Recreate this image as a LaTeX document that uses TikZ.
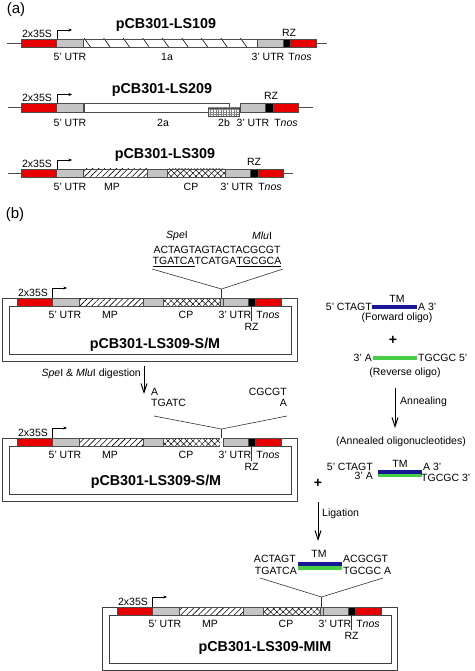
\documentclass[tikz,border=0pt]{standalone}
\usepackage{fontspec}
\setmainfont{Liberation Sans}
\usetikzlibrary{arrows.meta,patterns.meta}
\definecolor{lsRed}{RGB}{232,0,0}
\definecolor{lsGray}{RGB}{196,196,196}
\definecolor{lsBlue}{RGB}{24,24,150}
\definecolor{lsGreen}{RGB}{70,205,70}
\newcommand{\lsLbl}{\fontsize{10.5}{12}\selectfont}
\newcommand{\lsTtl}{\fontsize{14.3}{16}\selectfont\bfseries}
\newcommand{\lsTnos}{T\textit{nos}}
\tikzset{
  seg/.style={draw=black!70, line width=0.5pt},
  lbl/.style={font=\lsLbl, inner sep=0pt},
  ttl/.style={font=\lsTtl, inner sep=0pt},
  frame/.style={draw=black!75, line width=0.7pt},
  prom/.style={-{Stealth[length=3.5pt,width=3pt]}, line width=0.6pt},
  procarrow/.style={-{Straight Barb[length=9pt,width=6pt]}, line width=1pt},
  pointer/.style={draw=black!80, line width=0.6pt},
  mpfill/.style={pattern={Lines[angle=45,distance=4.2pt,line width=0.6pt]}},
  cpfillA/.style={pattern={Lines[angle=45,distance=4.4pt,line width=0.5pt]}},
  cpfillB/.style={pattern={Lines[angle=-45,distance=4.4pt,line width=0.5pt]}},
  onefill/.style={pattern={Lines[angle=-55,distance=16pt,line width=0.6pt]}},
  twobfill/.style={pattern={Hatch[angle=0,distance=2.6pt,line width=0.3pt]}, pattern color=black!50}
}
% #1 name, #2 #3 shift, #4 title, #5 #6 title position, #7 mcs
\newcommand{\lsPlasmid}[7]{%
\begin{scope}[shift={(#2,#3)}]
\draw[frame] (2,0) rectangle (297,63.5);
\draw[frame] (9,8) rectangle (291,56);
\filldraw[seg, fill=lsRed] (17,0) rectangle (52,8);
\filldraw[seg, fill=lsGray] (52,0) rectangle (79,8);
\filldraw[seg, fill=white] (79,0) rectangle (143,8);
\fill[mpfill] (79,0) rectangle (143,8);
\draw[seg] (79,0) rectangle (143,8);
\filldraw[seg, fill=lsGray] (143,0) rectangle (163,8);
\filldraw[seg, fill=white] (163,0) rectangle (220,8);
\fill[cpfillA] (163,0) rectangle (220,8);
\fill[cpfillB] (163,0) rectangle (220,8);
\draw[seg] (163,0) rectangle (220,8);
#7
\filldraw[seg, fill=lsGray] (223,0) rectangle (248,8);
\filldraw[seg, fill=black] (248,0) rectangle (255,8);
\filldraw[seg, fill=lsRed] (255,0) rectangle (281,8);
\draw[prom] (52,0) -- (52,-10) -- (67,-10);
\node[lbl] (#1-p35s) at (33,-5) {2x35S};
\node[lbl] (#1-utr5) at (65,16.5) {5' UTR};
\node[lbl] (#1-mp) at (110,16.5) {MP};
\node[lbl] (#1-cp) at (186,16.5) {CP};
\node[lbl] (#1-utr3) at (235,16.5) {3' UTR};
\node[lbl] (#1-tnos) at (268,16.5) {\lsTnos};
\node[lbl] (#1-rz) at (251.5,28.5) {RZ};
\coordinate (#1-rzbox) at (251.5,8);
\coordinate (#1-cut) at (221.5,0);
\draw[pointer, shorten >=1.5pt] (#1-rzbox) -- (#1-rz.north);
\node[ttl] (#1-name) at (#5,#6) {#4};
\end{scope}}

\begin{document}
\begin{tikzpicture}[x=1pt,y=-1pt]
\useasboundingbox (0,0) rectangle (474,671);
\node[font=\fontsize{15}{17}\selectfont, inner sep=0pt] (pa) at (16,10) {(a)};
\node[font=\fontsize{15}{17}\selectfont, inner sep=0pt] (pb) at (15,215) {(b)};

\begin{scope}[shift={(0,39)}]
\draw[seg] (7,4.25) -- (327,4.25);
\filldraw[seg, fill=lsRed] (21,0) rectangle (56,8.5);
\filldraw[seg, fill=lsGray] (56,0) rectangle (83,8.5);
\filldraw[seg, fill=white] (83,0) rectangle (257,8.5);
\fill[onefill] (83,0) rectangle (257,8.5);
\draw[seg] (83,0) rectangle (257,8.5);
\filldraw[seg, fill=lsGray] (257,0) rectangle (283,8.5);
\filldraw[seg, fill=black] (283,0) rectangle (290,8.5);
\filldraw[seg, fill=lsRed] (290,0) rectangle (316,8.5);
\draw[prom] (57,0) -- (57,-9) -- (72,-9);
\node[ttl] (a1-name) at (166,-14) {pCB301-LS109};
\node[lbl] (a1-p35s) at (37,-5) {2x35S};
\node[lbl] (a1-rz) at (289,-6) {RZ};
\node[lbl] (a1-utr5) at (70,18) {5' UTR};
\node[lbl] (a1-orf) at (167,18) {1a};
\node[lbl] (a1-utr3) at (268,18) {3' UTR};
\node[lbl] (a1-tnos) at (300,18) {\lsTnos};
\end{scope}

\begin{scope}[shift={(0,103.5)}]
\draw[seg] (8,4.25) -- (313,4.25);
\filldraw[seg, fill=lsRed] (21,0) rectangle (56,8.5);
\filldraw[seg, fill=lsGray] (56,0) rectangle (83,8.5);
\filldraw[seg, fill=white] (84,0) rectangle (229,8.5);
\filldraw[seg, fill=white] (208,4.5) rectangle (239,13);
\fill[twobfill] (208,4.5) rectangle (239,13);
\draw[seg] (208,4.5) rectangle (239,13);
\filldraw[seg, fill=lsGray] (240,0) rectangle (265,8.5);
\filldraw[seg, fill=black] (265,0) rectangle (273,8.5);
\filldraw[seg, fill=lsRed] (273,0) rectangle (298,8.5);
\draw[prom] (57,0) -- (57,-9) -- (72,-9);
\node[ttl] (a2-name) at (162,-13.5) {pCB301-LS209};
\node[lbl] (a2-p35s) at (37,-5.5) {2x35S};
\node[lbl] (a2-rz) at (271,-7.5) {RZ};
\node[lbl] (a2-utr5) at (70,19.5) {5' UTR};
\node[lbl] (a2-orfa) at (163,19.5) {2a};
\node[lbl] (a2-orfb) at (224,19.5) {2b};
\node[lbl] (a2-utr3) at (253,19.5) {3' UTR};
\node[lbl] (a2-tnos) at (286,19.5) {\lsTnos};
\end{scope}

\begin{scope}[shift={(0,169)}]
\draw[seg] (8,4.25) -- (293,4.25);
\filldraw[seg, fill=lsRed] (21,0) rectangle (56,8.5);
\filldraw[seg, fill=lsGray] (56,0) rectangle (83,8.5);
\filldraw[seg, fill=white] (83,0) rectangle (147,8.5);
\fill[mpfill] (83,0) rectangle (147,8.5);
\draw[seg] (83,0) rectangle (147,8.5);
\filldraw[seg, fill=lsGray] (147,0) rectangle (167,8.5);
\filldraw[seg, fill=white] (167,0) rectangle (225,8.5);
\fill[cpfillA] (167,0) rectangle (225,8.5);
\fill[cpfillB] (167,0) rectangle (225,8.5);
\draw[seg] (167,0) rectangle (225,8.5);
\filldraw[seg, fill=lsGray] (225,0) rectangle (250,8.5);
\filldraw[seg, fill=black] (250,0) rectangle (258,8.5);
\filldraw[seg, fill=lsRed] (258,0) rectangle (283,8.5);
\draw[prom] (57,0) -- (57,-9) -- (72,-9);
\node[ttl] (a3-name) at (165,-14) {pCB301-LS309};
\node[lbl] (a3-p35s) at (37,-5.5) {2x35S};
\node[lbl] (a3-rz) at (254,-7.5) {RZ};
\node[lbl] (a3-utr5) at (70,18) {5' UTR};
\node[lbl] (a3-mp) at (112,18) {MP};
\node[lbl] (a3-cp) at (191,18) {CP};
\node[lbl] (a3-utr3) at (237,18) {3' UTR};
\node[lbl] (a3-tnos) at (270,18) {\lsTnos};
\end{scope}

\lsPlasmid{sm}{0}{298}{pCB301-LS309-S/M}{155}{47}{\filldraw[seg, fill=lsGray] (220,0) rectangle (223,8);}
\node[lbl] (spe) at (177,236) {\textit{Spe}I};
\node[lbl] (mlu) at (262,236) {\textit{Mlu}I};
\node[lbl] (mcstop) at (217,250) {ACTAGTAGTACTACGCGT};
\node[lbl] (mcsbot) at (217,262) {\underline{TGATCA}TCATGA\underline{TGCGCA}};
\coordinate (smL) at (152,269);
\coordinate (smR) at (283,269);
\coordinate (smApex) at (221.5,289);
\draw[pointer] (smL) -- (smApex) -- (smR);
\draw[pointer] (smApex) -- (sm-cut);

\coordinate (digTop) at (144,366);
\coordinate (digBot) at (144,394);
\draw[procarrow] (digTop) -- (digBot);
\node[lbl, anchor=east] (dig) at (141,374) {\textit{Spe}I \& \textit{Mlu}I digestion};

\lsPlasmid{cut}{0}{438}{pCB301-LS309-S/M}{156}{44}{\fill[white] (220.3,-0.6) rectangle (222.7,8.6);}
\node[lbl, anchor=west] (cutA) at (151,392) {A};
\node[lbl, anchor=west] (cutTg) at (151,403) {TGATC};
\node[lbl, anchor=east] (cutCg) at (287,392) {CGCGT};
\node[lbl, anchor=east] (cutB) at (287,403) {A};
\coordinate (cutL) at (154,416);
\coordinate (cutR) at (287,416);
\coordinate (cutApex) at (221.5,429);
\draw[pointer] (cutL) -- (cutApex) -- (cutR);
\draw[pointer] (cutApex) -- (cut-cut);

\node[lbl, anchor=east] (fw5) at (372,307) {5' CTAGT};
\fill[lsBlue] (372,305) rectangle (417,309);
\node[lbl] (fwTM) at (397,299) {TM};
\node[lbl, anchor=west] (fw3) at (418,307) {A 3'};
\node[lbl] (fwName) at (397,318) {(Forward oligo)};
\node[font=\fontsize{14}{16}\selectfont\bfseries, inner sep=0pt] (plusA) at (393,340) {+};
\node[lbl, anchor=east] (rv3) at (372,358) {3' A};
\fill[lsGreen] (373,356) rectangle (417,360);
\node[lbl, anchor=west] (rv5) at (418,358) {TGCGC 5'};
\node[lbl] (rvName) at (405,373) {(Reverse oligo)};

\coordinate (annTop) at (395,388);
\coordinate (annBot) at (395,428);
\draw[procarrow] (annTop) -- (annBot);
\node[lbl, anchor=west] (ann) at (400,402) {Annealing};
\node[lbl] (annName) at (401,442) {(Annealed oligonucleotides)};

\node[lbl, anchor=east] (ds5) at (373,467) {5' CTAGT};
\node[lbl] (dsTM) at (400,464) {TM};
\fill[lsBlue] (378,470) rectangle (422,473.5);
\fill[lsGreen] (378,473.5) rectangle (422,477);
\node[lbl, anchor=west] (ds3) at (423,467) {A 3'};
\node[lbl, anchor=east] (dsA) at (373,476) {3' A};
\node[lbl, anchor=west] (dsT) at (421,478) {TGCGC 3'};
\node[font=\fontsize{14}{16}\selectfont\bfseries, inner sep=0pt] (plusB) at (318,483) {+};

\coordinate (ligTop) at (318,502);
\coordinate (ligBot) at (318,541);
\draw[procarrow] (ligTop) -- (ligBot);
\node[lbl, anchor=west] (lig) at (322,514) {Ligation};

\node[lbl, anchor=east] (mimA) at (296,559) {ACTAGT};
\node[lbl, anchor=east] (mimT) at (297,571) {TGATCA};
\node[lbl] (mimTM) at (319,554) {TM};
\fill[lsBlue] (298,562) rectangle (342,566);
\fill[lsGreen] (298,566) rectangle (342,569.5);
\node[lbl, anchor=west] (mimB) at (343,559) {ACGCGT};
\node[lbl, anchor=west] (mimC) at (343,571) {TGCGC A};
\coordinate (mimL) at (260,578);
\coordinate (mimR) at (383,578);
\coordinate (mimApex) at (321.5,597);
\draw[pointer] (mimL) -- (mimApex) -- (mimR);

\lsPlasmid{mim}{100}{607}{pCB301-LS309-MIM}{165}{41}{\filldraw[seg, fill=lsGray] (220,0) rectangle (223,8);}
\draw[pointer] (mimApex) -- (mim-cut);
\end{tikzpicture}
\end{document}
